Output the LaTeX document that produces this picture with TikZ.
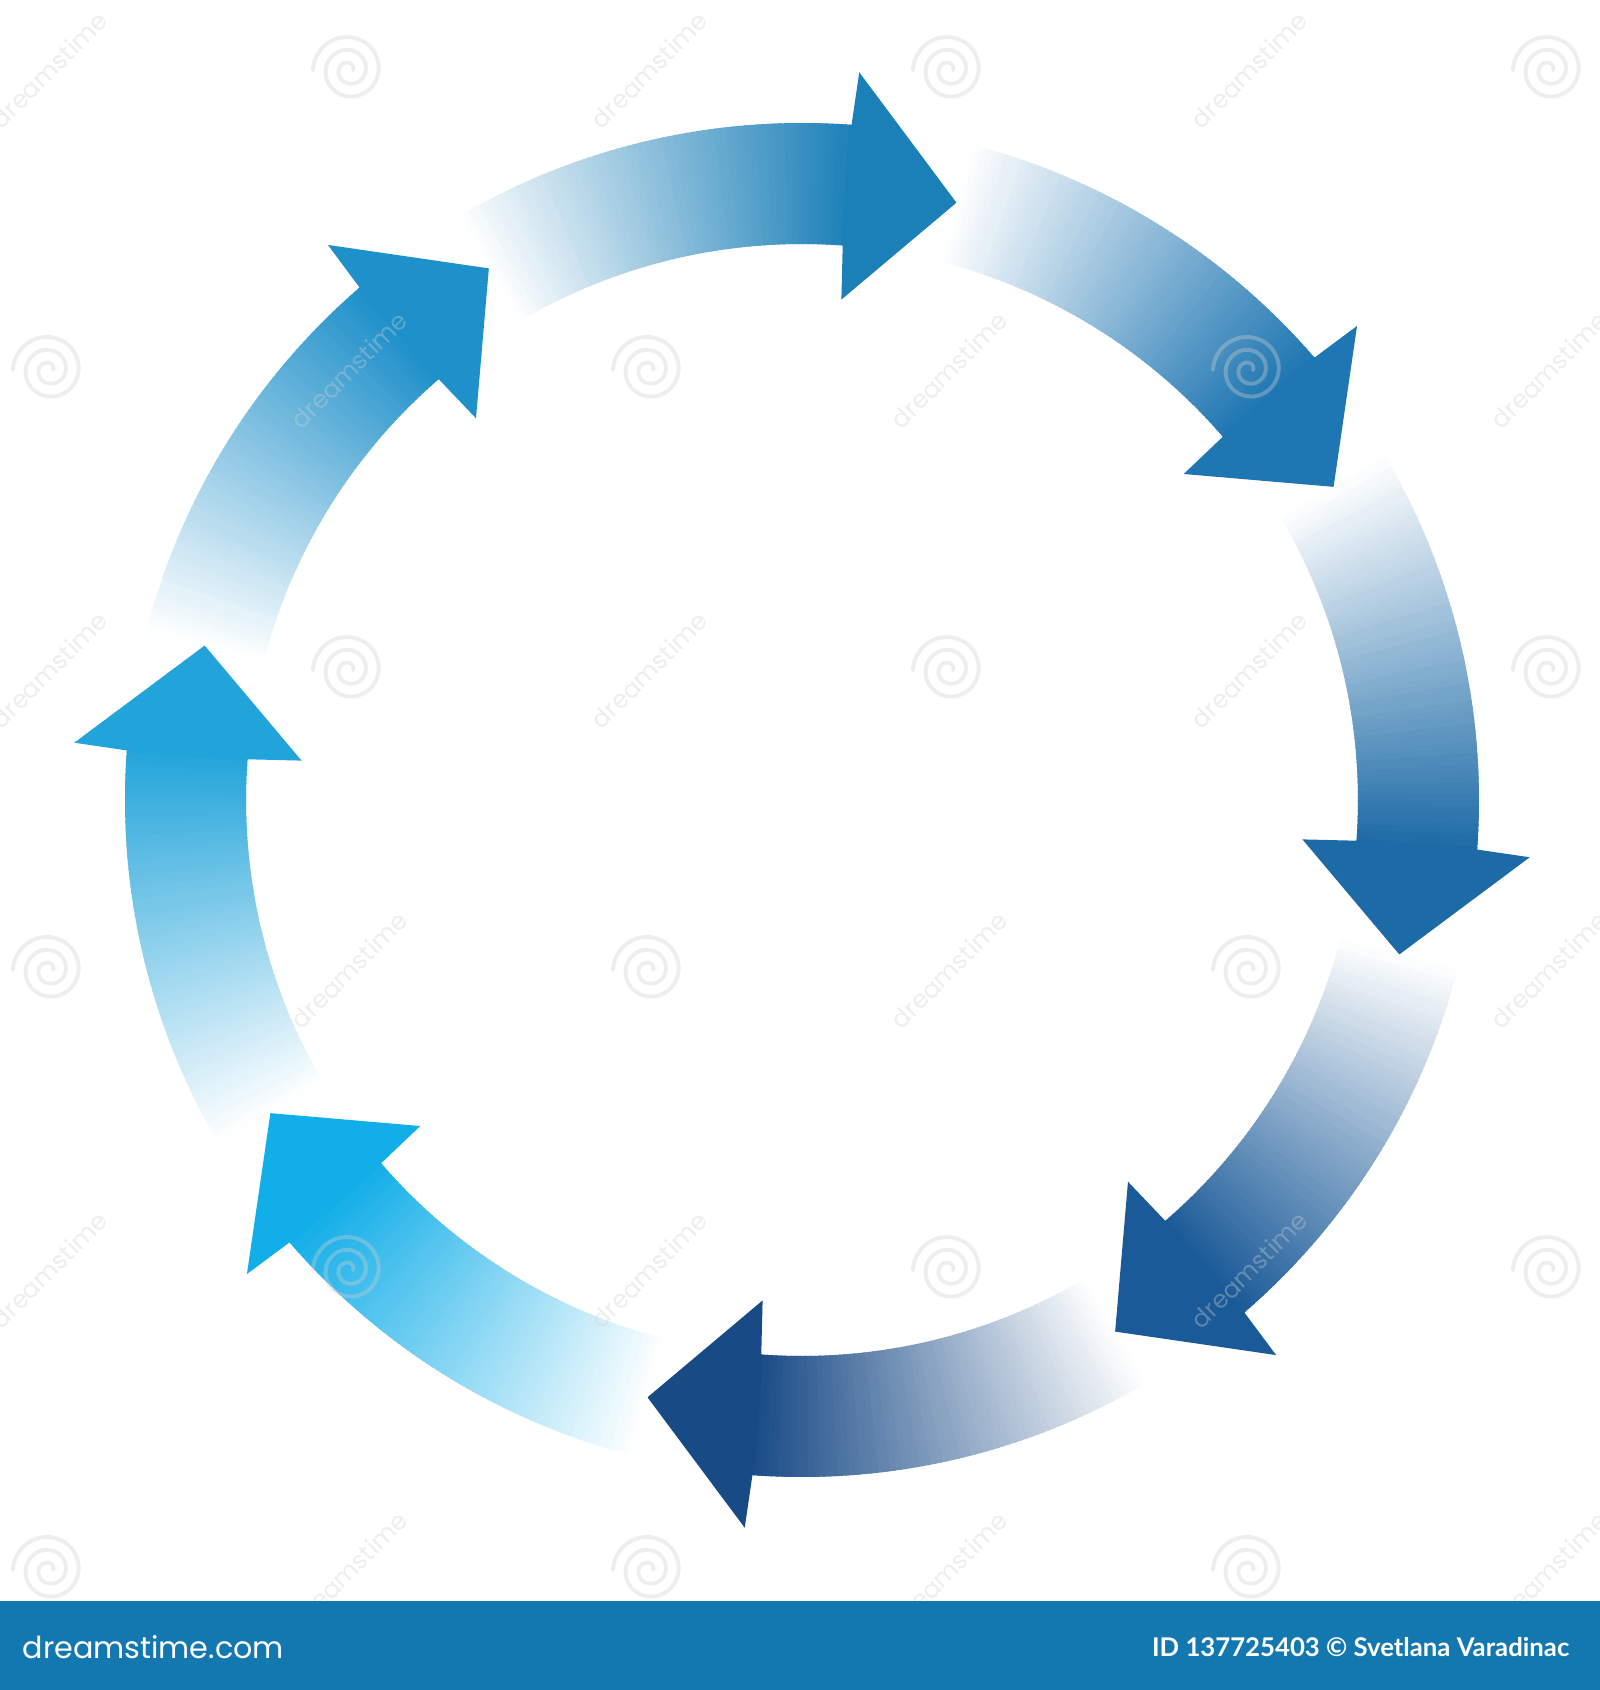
\documentclass[tikz,border=0pt]{standalone}
\usepackage{fontspec}
\usepackage{graphicx}
\setmainfont{Lato}
\newfontfamily\logofont{Poppins}

\definecolor{banner}{RGB}{20,120,176}
\definecolor{arrA}{RGB}{28,128,184}
\definecolor{arrB}{RGB}{30,118,178}
\definecolor{arrC}{RGB}{28,106,166}
\definecolor{arrD}{RGB}{26,90,152}
\definecolor{arrE}{RGB}{24,74,134}
\definecolor{arrF}{RGB}{18,174,232}
\definecolor{arrG}{RGB}{34,164,218}
\definecolor{arrH}{RGB}{30,144,202}
\definecolor{wmgray}{RGB}{208,208,208}

\begin{document}
\begin{tikzpicture}
  [x=0.01cm, y=0.01cm,
   wmark/.style={wmgray, opacity=0.36},
   wmtext/.style={wmark, rotate=45, font=\logofont\fontsize{7}{8}\selectfont, inner sep=0pt},
   wmswirl/.style={wmark, line width=1.1pt, line cap=round},
   slice/.style={line width=0pt}]
  \useasboundingbox (-802,-890) rectangle (798,800);
  \fill[white] (-802,-890) rectangle (798,800);

  % the eight arrows, tail fading to white
  \foreach \base/\col in {85.5/arrA, 40.5/arrB, -4.5/arrC, -49.5/arrD,
                          -94.5/arrE, -139.5/arrF, 175.5/arrG, 130.5/arrH} {
    \pgfmathsetmacro{\tail}{\base+35}
    \foreach \j in {0,...,69} {
      \pgfmathsetmacro{\aa}{\tail-\j*0.5}
      \pgfmathsetmacro{\ab}{\aa-0.8}
      \pgfmathtruncatemacro{\pct}{100*(\j+1)/70}
      \fill[slice, \col!\pct!white] (\aa:556) arc[start angle=\aa, end angle=\ab, radius=556]
        -- (\ab:677) arc[start angle=\ab, end angle=\aa, radius=677] -- cycle;
    }
    \fill[\col] ({\base+0.3}:556) -- (\base:502) -- ({\base-10}:617)
      -- (\base:730) -- ({\base+0.3}:677) -- cycle;
  }

  % stock watermark grid
  \foreach \i in {0,...,5}
    \foreach \j in {0,...,5} {
      \pgfmathtruncatemacro{\odd}{mod(\i+\j,2)}
      \ifnum\odd=0
        \node[wmtext] (wm-\i-\j) at ({-753+300*\i},{730-300*\j}) {dreamstime};
      \else
        \begin{scope}[shift={({-753+300*\i},{730-300*\j})}]
          \draw[wmswirl] plot[domain=0:900,samples=70,smooth] (\x:{4+\x/28});
        \end{scope}
      \fi
    }

  % banner
  \fill[banner] (-802,-801) rectangle (798,-890);
  \node[anchor=west, text=white, inner sep=0pt] (site) at (-780,-847)
    {\resizebox{2.61cm}{!}{\logofont dreamstime.com}};
  \node[anchor=east, text=white, inner sep=0pt] (credit) at (768,-847)
    {\resizebox{4.17cm}{!}{\bfseries ID 137725403 © Svetlana Varadinac}};
\end{tikzpicture}
\end{document}
